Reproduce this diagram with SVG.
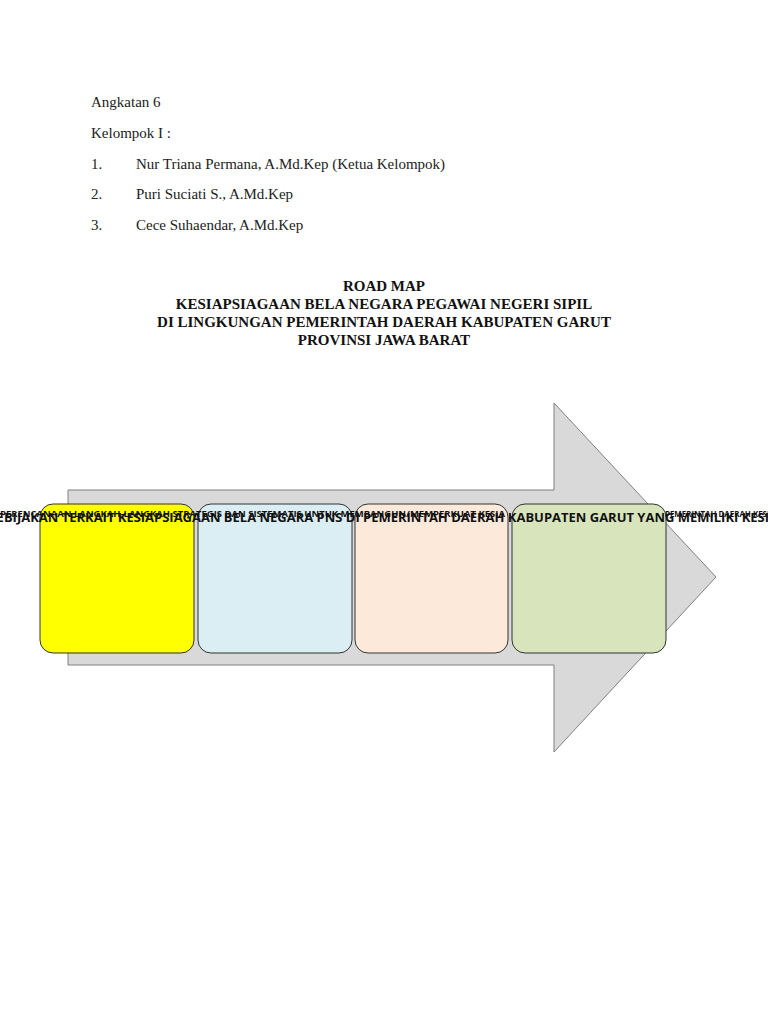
<svg xmlns="http://www.w3.org/2000/svg" width="768" height="1024" viewBox="0 0 768 1024">
<style>
.t{font-family:"Liberation Serif","Times New Roman",serif;font-size:15px;fill:#222}
.h{font-family:"Liberation Serif","Times New Roman",serif;font-size:15px;font-weight:bold;fill:#111;text-anchor:middle}
.box{stroke:#333;stroke-width:1}
.big{font-family:"Open Sans","Liberation Sans",sans-serif;font-size:13px;font-weight:bold;fill:#111}
.sm{font-family:"Open Sans","Liberation Sans",sans-serif;font-size:8.5px;font-weight:bold;fill:#111}
</style>
<rect width="768" height="1024" fill="#fff"/>
<g id="header">
<text class="t" x="91" y="107">Angkatan 6</text>
<text class="t" x="91" y="138">Kelompok I :</text>
<text class="t" x="91" y="169">1.</text>
<text class="t" x="136" y="169">Nur Triana Permana, A.Md.Kep (Ketua Kelompok)</text>
<text class="t" x="91" y="199">2.</text>
<text class="t" x="136" y="199">Puri Suciati S., A.Md.Kep</text>
<text class="t" x="91" y="230">3.</text>
<text class="t" x="136" y="230">Cece Suhaendar, A.Md.Kep</text>
</g>
<g id="title">
<text class="h" x="384" y="291">ROAD MAP</text>
<text class="h" x="384" y="309">KESIAPSIAGAAN BELA NEGARA PEGAWAI NEGERI SIPIL</text>
<text class="h" x="384" y="327">DI LINGKUNGAN PEMERINTAH DAERAH KABUPATEN GARUT</text>
<text class="h" x="384" y="345">PROVINSI JAWA BARAT</text>
</g>
<g id="arrow">
<polygon points="68,490 554,490 554,403 716,577 554,752 554,665 68,665" fill="#d9d9d9" stroke="#808080" stroke-width="1"/>
</g>
<g id="box1"><rect class="box" x="40" y="504" width="154" height="149" rx="13" fill="#ffff00"/></g>
<g id="box2"><rect class="box" x="198" y="504" width="154" height="149" rx="13" fill="#daeef3"/></g>
<g id="box3"><rect class="box" x="355" y="504" width="153" height="149" rx="13" fill="#fde9d9"/></g>
<g id="box4"><rect class="box" x="512" y="504" width="154" height="149" rx="13" fill="#d7e4bc"/></g>
<g id="labels">
<text class="sm" x="0" y="517" textLength="505" lengthAdjust="spacingAndGlyphs">PERENCANAAN LANGKAH-LANGKAH STRATEGIS DAN SISTEMATIS UNTUK MEMBANGUN/MEMPERKUAT KESIA</text>
<text class="sm" x="665" y="517" textLength="110" lengthAdjust="spacingAndGlyphs">PEMERINTAH DAERAH KESIA</text>
<text class="big" x="-12" y="522" textLength="790" lengthAdjust="spacingAndGlyphs">KEBIJAKAN TERKAIT KESIAPSIAGAAN BELA NEGARA PNS DI PEMERINTAH DAERAH KABUPATEN GARUT  YANG MEMILIKI KESIA</text>
</g>
</svg>
